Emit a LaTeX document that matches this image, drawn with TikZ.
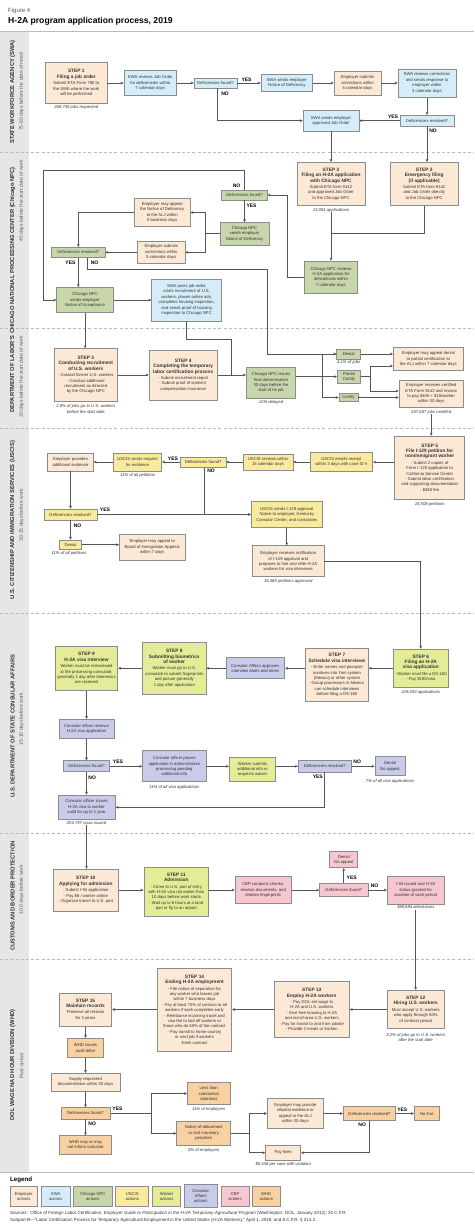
\documentclass[tikz,border=0pt]{standalone}
\usepackage{fontspec}
\setmainfont{Liberation Sans}
\usepackage{tikz}
\usetikzlibrary{arrows.meta,calc}

\definecolor{empfill}{HTML}{FBE8D5}
\definecolor{swafill}{HTML}{D5EDF8}
\definecolor{npcfill}{HTML}{C8D6AC}
\definecolor{uscfill}{HTML}{F9EA9E}
\definecolor{wrkfill}{HTML}{E4EC98}
\definecolor{consfill}{HTML}{C9CBEA}
\definecolor{cbpfill}{HTML}{F6C7CF}
\definecolor{whdfill}{HTML}{F8D0A2}
\definecolor{boxline}{HTML}{8C8C8C}
\definecolor{flow}{HTML}{555555}
\definecolor{txt}{HTML}{333333}
\definecolor{laneband}{HTML}{E6E6E6}
\definecolor{sepline}{HTML}{BBBBBB}

\newcommand{\fsz}[2]{\fontsize{#1}{#2}\selectfont}
\newcommand{\hd}[1]{{\fsz{4.8}{5.7}\bfseries #1}}

\begin{document}
\begin{tikzpicture}[x=1pt, y=-1pt,
  >={Stealth[length=3pt,width=2.8pt]},
  box/.style={draw=boxline, line width=0.7pt, align=center, inner sep=0.8pt,
    text=txt, font=\fsz{4.2}{5.4}},
  wh/.style 2 args={minimum width=#1pt, minimum height=#2pt},
  emp/.style={box, fill=empfill},
  swa/.style={box, fill=swafill},
  npc/.style={box, fill=npcfill},
  usc/.style={box, fill=uscfill},
  wrk/.style={box, fill=wrkfill},
  cons/.style={box, fill=consfill},
  cbp/.style={box, fill=cbpfill},
  whd/.style={box, fill=whdfill},
  note/.style={font=\fsz{4.2}{5.4}\itshape, text=txt, inner sep=0pt, align=center},
  yn/.style={font=\fsz{5}{6}\bfseries, inner sep=0pt},
  ln/.style={draw=flow, line width=0.75pt},
  lane/.style={rotate=90, font=\fsz{5.8}{7}\bfseries, text=txt, inner sep=0pt},
  lanesub/.style={rotate=90, font=\fsz{5}{6}, text=txt!80, inner sep=0pt},
  sep/.style={draw=sepline, line width=0.6pt, dash pattern=on 3pt off 2.2pt}]

  \useasboundingbox (0,0) rectangle (474,1226);
  \fill[white] (0,0) rectangle (474,1226);

  % heading
  \node[anchor=west, font=\fsz{6}{7}, text=black!65, inner sep=0pt] (fig) at (8,11) {Figure 4};
  \node[anchor=west, font=\fsz{8.6}{10}\bfseries, inner sep=0pt] (ttl) at (8,21.5)
    {H-2A program application process, 2019};
  \draw[draw=sepline, line width=0.7pt] (0,31.7) -- (474,31.7);

  % lanes
  \fill[laneband] (0,32.3) rectangle (29,1172);
  \draw[sep] (0,152) -- (474,152);
  \draw[sep] (0,328) -- (474,328);
  \draw[sep] (0,428) -- (474,428);
  \draw[sep] (0,613) -- (474,613);
  \draw[sep] (0,833) -- (474,833);
  \draw[sep] (0,959) -- (474,959);
  \draw[draw=sepline, line width=0.7pt] (0,1172) -- (474,1172);

  \node[lane] (lswa) at (12.7,92) {STATE WORKFORCE AGENCY (SWA)};
  \node[lanesub] (lswas) at (21.7,92) {75-60 days before the date of need};
  \node[lane] (lnpc) at (12.7,290) {DEPARTMENT OF LABOR'S CHICAGO NATIONAL PROCESSING CENTER (Chicago NPC)};
  \node[lanesub] (lnpcs) at (21.7,201) {45 days before the start date of work};
  \node[lanesub] (lnpct) at (21.7,377) {30 days before the start date of work};
  \node[lane] (lusc) at (12.7,520) {U.S. CITIZENSHIP AND IMMIGRATION SERVICES (USCIS)};
  \node[lanesub] (luscs) at (21.7,515) {30-15 days before work};
  \node[lane] (lcons) at (12.7,726) {U.S. DEPARTMENT OF STATE CONSULAR AFFAIRS};
  \node[lanesub] (lconss) at (21.7,719) {15-10 days before work};
  \node[lane] (lcbp) at (12.7,896) {CUSTOMS AND BORDER PROTECTION};
  \node[lanesub] (lcbps) at (21.7,890) {10-0 days before work};
  \node[lane] (lwhd) at (12.7,1065) {DOL WAGE NAD HOUR DIVISION (WHD)};
  \node[lanesub] (lwhds) at (21.7,1066) {Post-arrival};

  % swa
  \node[emp, wh={61.3}{41}] (s1) at (76.3,83)
    {\hd{STEP 1}\\\hd{Filing a job order}\\[1pt]Submit ETA Form 790 to\\the SWA where the work\\will be performed};
  \node[note] (n1) at (76.3,107.7) {268,739 jobs requested};
  \node[swa, wh={52.7}{24.6}] (swarev) at (150.3,83) {SWA reviews Job Order\\for deficiencies within\\7 calendar days};
  \node[swa, wh={43}{10}] (swadef) at (215.5,83) {Deficiencies found?};
  \node[swa, wh={51.7}{17.3}] (swanod) at (286.8,83) {SWA sends employer\\Notice of Deficiency};
  \node[emp, wh={47}{24}] (empcor1) at (357.5,83) {Employer submits\\corrections within\\5 calendar days};
  \node[swa, wh={58}{28.3}] (swarevcor) at (427,83) {SWA reviews corrections\\and sends response to\\employer within\\3 calendar days};
  \node[swa, wh={53.7}{10.7}] (swares) at (427,120.7) {Deficiencies resolved?};
  \node[swa, wh={55.7}{20.4}] (swaapp) at (331,120.7) {SWA sends employer\\approved Job Order};

  \draw[ln,->] (s1) -- (swarev);
  \draw[ln,->] (swarev) -- (swadef);
  \draw[ln,->] (swadef) -- (swanod);
  \draw[ln,->] (swanod) -- (empcor1);
  \draw[ln,->] (empcor1) -- (swarevcor);
  \draw[ln,->] (swarevcor) -- (swares);
  \draw[ln,->] (swares) -- (swaapp);
  \draw[ln,->] ([xshift=1.5pt]swadef.south) |- (swaapp.west);
  \node[yn] (y1) at (246.5,79.5) {YES};
  \node[yn] (no1) at (225,93.3) {NO};
  \node[yn] (y2) at (393,116.5) {YES};
  \node[yn] (no2) at (433,131) {NO};

  % chicago npc
  \node[emp, wh={68}{43.4}] (st2a) at (331,184)
    {\hd{STEP 2}\\\hd{Filing an H-2A application}\\\hd{with Chicago NPC}\\[1pt]Submit ETA form 9142\\and approved Job Order\\to the Chicago NPC};
  \node[note] (n2a) at (331,210) {13,081 applications};
  \node[emp, wh={67.7}{43.4}] (st2e) at (424.2,184)
    {\hd{STEP 2}\\\hd{Emergency filing}\\\hd{(if applicable)}\\[1pt]Submit ETA form 9142\\and Job Order directly\\to the Chicago NPC};
  \node[npc, wh={53.3}{32.3}] (npcrev) at (331,277.2) {Chicago NPC reviews\\H-2A application for\\deficiencies within\\7 calendar days};
  \node[npc, wh={45.6}{10}] (npcdef) at (244.5,195) {Deficiencies found?};
  \node[npc, wh={49}{22.5}] (npcnod) at (244.5,233.75) {Chicago NPC\\sends employer\\Notice of Deficiency};
  \node[emp, wh={55.7}{28.3}] (empapp1) at (162.2,212.5) {Employer may appeal\\the Notice of Deficiency\\to the ALJ within\\5 business days};
  \node[emp, wh={47.3}{22.6}] (empcor2) at (161.3,252.3) {Employer submits\\corrections within\\5 calendar days};
  \node[npc, wh={53.3}{10}] (npcres) at (78.3,252.3) {Deficiencies resolved?};
  \node[npc, wh={56.6}{25}] (npcacc) at (85,300) {Chicago NPC\\sends employer\\Notice of Acceptance};
  \node[swa, wh={70}{41.7}] (swapost) at (186.7,300) {SWA posts job order,\\starts recruitment of U.S.\\workers, places online ads,\\completes housing inspection,\\and sends proof of housing\\inspection to Chicago NPC};

  \draw[ln,->] (swares.south) -- (swares.south |- st2e.north);
  \draw[ln,->] (swaapp) -- (st2a);
  \coordinate (j2) at (331,233.3);
  \draw[ln,->] (n2a.south) -- (npcrev.north);
  \draw[ln] (st2e.south) |- (j2);
  \draw[ln,->] (npcrev.west) -- ++(-17,0) |- (npcdef.east);
  \draw[ln,->] (npcdef) -- (npcnod);
  \coordinate (nobend) at (43.3,170.7);
  \draw[ln,->] (npcdef.north) |- (nobend) |- (npcacc.west);
  \coordinate (b1) at (205,233.75);
  \draw[ln] (npcnod.west) -- (b1);
  \draw[ln,->] (b1) |- (empapp1.east);
  \draw[ln,->] (b1) |- (empcor2.east);
  \draw[ln,->] (empcor2) -- (npcres);
  \draw[ln,->] (empapp1.west) -| (npcres.north);
  \draw[ln,->] (npcres.south) -- (npcres.south |- npcacc.north);
  \draw[ln,->] (npcacc) -- (swapost);
  \node[yn] (no3) at (236.5,185.5) {NO};
  \node[yn] (y3) at (251.5,206) {YES};
  \node[yn] (y4) at (70.5,262.7) {YES};
  \node[yn] (no4) at (94.5,262.7) {NO};

  % chicago npc, 30 days
  \node[emp, wh={63}{52.7}] (st3) at (85.8,375)
    {\hd{STEP 3}\\\hd{Conducting recruitment}\\\hd{of U.S. workers}\\[1pt]- Contact former U.S. workers\\- Conduct additional\\recruitment as directed\\by the Chicago NPC};
  \node[note] (n3) at (85.8,409) {2.9\% of jobs go to U.S. workers\\before the start date};
  \node[emp, wh={68.3}{50}] (st4) at (183.2,375)
    {\hd{STEP 4}\\\hd{Completing the temporary}\\\hd{labor certification process}\\[1pt]- Submit recruitment report\\- Submit proof of workers'\\compensation insurance};
  \node[npc, wh={49.4}{31}] (fin) at (271,382.8) {Chicago NPC issues\\final determination\\30 days before the\\start of he job};
  \node[note] (nfin) at (271,402.7) {12\% delayed};
  \node[npc, wh={24}{10}] (den1) at (348.7,354) {Denial};
  \node[note] (nden) at (348.7,362.5) {4.1\% of jobs};
  \node[npc, wh={23.4}{13.3}] (pc) at (349,376.7) {Partial\\Certify};
  \node[npc, wh={19}{8.4}] (cert) at (348.5,397.5) {Certify};
  \node[emp, wh={70}{23.4}] (empapp2) at (428.3,359) {Employer may appeal denial\\or partial certification to\\the ALJ within 7 calendar days};
  \node[emp, wh={64.3}{27.3}] (emprec) at (431.2,393.7) {Employer receives certified\\ETA Form 9142 and invoice\\to pay \$100 + \$10/worker\\within 30 days};
  \node[note] (nrec) at (431.2,412) {257,667 jobs certified};

  \coordinate (nob) at (267.3,269);
  \draw[ln,->] ([xshift=9.4pt]npcres.south) |- (nob) |- (den1.west);
  \draw[ln,->] (npcacc.south) -- (npcacc.south |- st3.north);
  \draw[ln,->] (st3) -- (st4);
  \coordinate (j4) at (231.7,339.3);
  \draw[ln] (swapost.south) |- (j4) -- (j4 |- st4.east);
  \draw[ln,->] (st4.east) -- (fin.west |- st4.east);
  \coordinate (j5) at (322.3,376.7);
  \draw[ln,->] (fin.east |- pc.west) -- (pc.west);
  \draw[ln,->] (j5) |- (den1.west);
  \draw[ln,->] (j5) |- (cert.west);
  \draw[ln,->] (den1) -- (den1 -| empapp2.west);
  \coordinate (j6) at (370,376.7);
  \draw[ln] (pc.east) -- (j6);
  \draw[ln,->] (j6) |- ([yshift=-7pt]empapp2.west);
  \draw[ln,->] (j6) |- ([yshift=2.7pt]emprec.west);
  \draw[ln,->] (cert) -- (cert -| emprec.west);

  % uscis
  \node[emp, wh={70}{63.3}] (st5) at (429.7,467.7)
    {\hd{STEP 5}\\\hd{File I-129 petition for}\\\hd{nonimmigrant worker}\\[1pt]- Submit 2 copies of\\Form I-129 application to\\California Service Center\\- Submit labor certification\\and supporting documentation\\- \$460 fee};
  \node[note] (n5) at (429.7,504.3) {15,508 petitions};
  \node[usc, wh={62.7}{18.7}] (usemail) at (341.3,462) {USCIS emails receipt\\within 3 days with case ID \#};
  \node[usc, wh={50}{15.7}] (usrev) at (268,462) {USCIS reviews within\\15 calendar days};
  \node[usc, wh={45.7}{10.3}] (usdef) at (203.2,462) {Deficiencies found?};
  \node[usc, wh={48.4}{18}] (usreq) at (137.5,462) {USCIS sends request\\for evidence};
  \node[note] (nreq) at (137.5,475.2) {11\% of all petitions};
  \node[emp, wh={45.6}{18}] (empev) at (70.5,462) {Employer provides\\additional evidence};
  \node[usc, wh={53}{11}] (usres) at (70.5,514.5) {Deficiencies resolved?};
  \node[usc, wh={22.3}{9.3}] (usden) at (70.5,544.7) {Denial};
  \node[note] (nuden) at (69,553.7) {11\% of all petitions};
  \node[emp, wh={65.7}{25.7}] (empbia) at (152.2,547.2) {Employer may appeal to\\Board of Immigration Appeals\\within 7 days};
  \node[usc, wh={71}{25.6}] (usapp) at (286.8,514.5) {USCIS sends I-129 approval\\Notice to employer, Kentucky\\Consular Center, and consulates};
  \node[emp, wh={71.7}{31}] (emprcv) at (288.2,561.2) {Employer receives notification\\of I-129 approval and\\prepares to hire and refer H-2A\\workers for visa interviews};
  \node[note] (nrcv) at (288.2,581.7) {15,380 petitions approved};

  \draw[ln,->] (nrec.south) -- (nrec.south |- st5.north);
  \draw[ln,->] (st5.west |- usemail) -- (usemail);
  \draw[ln,->] (usemail) -- (usrev);
  \draw[ln,->] (usrev) -- (usdef);
  \draw[ln,->] (usdef) -- (usreq);
  \draw[ln,->] (usreq) -- (empev);
  \draw[ln,->] (empev) -- (usres);
  \draw[ln,->] (usres) -- (usapp);
  \draw[ln] ([xshift=1.5pt]usdef.south) |- (usapp.west);
  \draw[ln,->] (usres) -- (usden);
  \draw[ln,->] (usden) -- (usden -| empbia.west);
  \draw[ln,->] (usapp.south) -- (usapp.south |- emprcv.north);
  \node[yn] (y5) at (173,458.3) {YES};
  \node[yn] (no5) at (211,471) {NO};
  \node[yn] (y6) at (105,510) {YES};
  \node[yn] (no6) at (77.5,526) {NO};

  % consular affairs
  \node[wrk, wh={55}{38.3}] (st6) at (420.8,668.2)
    {\hd{STEP 6}\\\hd{Filing an H-2A}\\\hd{visa application}\\[1pt]- Worker must file a DS-160\\- Pay \$190/visa};
  \node[note] (n6) at (420.8,692.3) {219,053 applications};
  \node[emp, wh={62.6}{53.4}] (st7) at (337,675)
    {\hd{STEP 7}\\\hd{Schedule visa interviews}\\[1pt]- Enter names and passport\\numbers into Yoni system\\(Mexico) or other system\\-Group processors in Mexico\\can schedule interviews\\before filing a DS-160};
  \node[cons, wh={58.7}{21}] (conapp) at (255.3,668.2) {Consular Affairs approves\\interview dates and times};
  \node[wrk, wh={63.3}{51.3}] (st8) at (174.3,668.2)
    {\hd{STEP 8}\\\hd{Submitting biometrics}\\\hd{of worker}\\[1pt]Worker must go to U.S.\\consulate to submit fingerprints\\and picture generally\\1 day after application};
  \node[wrk, wh={62.6}{44}] (st9) at (86.5,668.2)
    {\hd{STEP 9}\\\hd{H-2A visa interview}\\[1pt]Worker must be interviewed\\at the processing consulate,\\generally 1 day after biometrics\\are received};
  \node[cons, wh={55.3}{19}] (conrev) at (86.5,728.8) {Consular officer reviews\\H-2A visa application};
  \node[cons, wh={46}{11}] (condef) at (86.5,766.3) {Deficiencies found?};
  \node[cons, wh={63.3}{31}] (conadm) at (174.3,766.3) {Consular officer places\\application in administrative\\processing pending\\additional info};
  \node[note] (nadm) at (174.3,787.3) {11\% of all visa applications};
  \node[wrk, wh={46.4}{24.4}] (wrksub) at (252.5,769.5) {Worker submits\\additional info or\\requests waiver};
  \node[cons, wh={53}{11.3}] (conres) at (324.8,766.3) {Deficiencies resolved?};
  \node[cons, wh={30}{19}] (conden) at (390,766.3) {Denial\\No appeal};
  \node[note] (ncden) at (390,781.7) {7\% of all visa applications};
  \node[cons, wh={57.3}{24.3}] (conissue) at (86.5,807.2) {Consular officer issues\\H-2A visa to worker\\valid for up to 1 year};
  \node[note] (nconi) at (86.5,823.3) {204,797 visas issued};

  \draw[ln,->] (emprcv.east) -| (st6.north);
  \draw[ln,->] (st6) -- (st6 -| st7.east);
  \draw[ln,->] (st7.west |- conapp) -- (conapp);
  \draw[ln,->] (conapp) -- (st8);
  \draw[ln,->] (st8) -- (st9);
  \draw[ln,->] (st9) -- (conrev);
  \draw[ln,->] (conrev) -- (condef);
  \draw[ln,->] (condef) -- (conadm);
  \draw[ln,->] (conadm.east) -- (conadm.east -| wrksub.west);
  \draw[ln,->] (wrksub.east |- conres) -- (conres);
  \draw[ln,->] (conres) -- (conden);
  \draw[ln,->] (conres.south) |- (conissue.east);
  \draw[ln,->] (condef) -- (conissue);
  \node[yn] (y7) at (118,761.7) {YES};
  \node[yn] (no7) at (92.2,777.7) {NO};
  \node[yn] (no8) at (357.2,761.7) {NO};
  \node[yn] (y8) at (317.8,776.7) {YES};

  % customs and border protection
  \node[emp, wh={65}{41.7}] (st10) at (85.8,890)
    {\hd{STEP 10}\\\hd{Applying for admission}\\[1pt]- Submit I-94 application\\- Pay \$6 / worker online\\- Organize transit to U.S. port};
  \node[wrk, wh={64.7}{48.3}] (st11) at (176.3,891.8)
    {\hd{STEP 11}\\\hd{Admission}\\[1pt]- Come to U.S. port of entry\\with H-2A visa not earlier than\\10 days before work starts\\- Wait up to 6 hours at a land\\port or fly to an airport};
  \node[cbp, wh={56.3}{26.6}] (cbpchk) at (263.2,890) {CBP conducts checks,\\reviews documents, and\\retakes fingerprints};
  \node[cbp, wh={48.3}{12.4}] (cbpdef) at (343.8,890) {Deficiencies found?};
  \node[cbp, wh={28}{16}] (cbpden) at (343.8,859.7) {Denial\\No appeal};
  \node[cbp, wh={56.7}{28.3}] (cbpi94) at (415.7,890) {I-94 issued and H-2A\\status granted for\\duration of work period};
  \node[note] (ni94) at (415.7,907.7) {398,584 admissions};

  \draw[ln,->] (nconi.south) -- (nconi.south |- st10.north);
  \draw[ln,->] (st10) -- (st10 -| st11.west);
  \draw[ln,->] (st11.east |- cbpchk) -- (cbpchk);
  \draw[ln,->] (cbpchk) -- (cbpdef);
  \draw[ln,->] (cbpdef) -- (cbpi94);
  \draw[ln,->] (cbpdef) -- (cbpden);
  \node[yn] (y9) at (351.7,878) {YES};
  \node[yn] (no9) at (374.5,885.3) {NO};

  % wage and hour division
  \node[emp, wh={56.7}{38.6}] (st12) at (415.7,1009.5)
    {\hd{STEP 12}\\\hd{Hiring U.S. workers}\\[1pt]Must accept U.S. workers\\who apply through 50\%\\of contract period};
  \node[note] (n12) at (415.7,1037.5) {3.2\% of jobs go to U.S. workers\\after the start date};
  \node[emp, wh={75}{56}] (st13) at (311.8,1009.5)
    {\hd{STEP 13}\\\hd{Employ H-2A workers}\\[1pt]- Pay DOL-set wage to\\H-2A and U.S. workers\\- Give free housing to H-2A\\and out-of-area U.S. workers\\- Pay for transit to and from jobsite\\- Provide 3 meals or kitchen};
  \node[emp, wh={74.4}{82.7}] (st14) at (194.5,1009.5)
    {\hd{STEP 14}\\\hd{Ending H-2A employment}\\[1pt]- File notice of separation for\\any worker who leaves job\\within 7 business days\\- Pay at least 75\% of contract to all\\workers if work completes early\\- Reimburse incoming travel and\\visa fee to laid off workers or\\those who do 50\% of the contract\\- Pay transit to home country\\or next job if workers\\finish contract};
  \node[emp, wh={52.4}{33.3}] (st15) at (85.5,1009.5)
    {\hd{STEP 15}\\\hd{Maintain records}\\[1pt]Preserve all records\\for 3 years};
  \node[whd, wh={36.3}{19}] (whdaud) at (85.5,1047.8) {WHD issues\\audit letter};
  \node[emp, wh={69.3}{17.7}] (empsup) at (85.5,1082.2) {Supply requested\\documentation within 30 days};
  \node[whd, wh={49.3}{11.3}] (whddef) at (85.5,1113.3) {Deficiencies found?};
  \node[whd, wh={52}{18.3}] (whdinf) at (85.5,1144.8) {WHD may or may\\not inform outcome};
  \node[whd, wh={42.7}{21.6}] (whdless) at (208.7,1093.5) {Less than\\substantial\\violations};
  \node[note] (nless) at (208.7,1109) {11\% of employers};
  \node[whd, wh={54}{23.3}] (whddeb) at (203.7,1133.3) {Notice of debarment\\or civil monetary\\penalties};
  \node[note] (ndeb) at (203.7,1150) {2\% of employers};
  \node[emp, wh={56}{30}] (empreb) at (295.3,1113.5) {Employer may provide\\rebuttal evidence or\\appeal to the ALJ\\within 30 days};
  \node[whd, wh={52.4}{13.4}] (whdres) at (369.5,1113.5) {Deficiencies resolved?};
  \node[whd, wh={24.7}{14}] (nofine) at (426.7,1113.5) {No fine};
  \node[emp, wh={35}{14.3}] (payf) at (283.2,1152.8) {Pay fines};
  \node[note] (npay) at (283.2,1164.3) {\$6,538 per case with violation};

  \draw[ln,->] (ni94.south) -- (ni94.south |- st12.north);
  \draw[ln,->] (st12) -- (st13);
  \draw[ln,->] (st13) -- (st14);
  \draw[ln,->] (st14) -- (st15);
  \draw[ln,->] (st15) -- (whdaud);
  \draw[ln,->] (whdaud) -- (empsup);
  \draw[ln,->] (empsup) -- (whddef);
  \draw[ln,->] (whddef) -- (whdinf);
  \coordinate (j7) at (151.7,1113.3);
  \draw[ln] (whddef) -- (j7);
  \draw[ln,->] (j7) |- (whdless.west);
  \draw[ln,->] (j7) |- (whddeb.west);
  \coordinate (j8) at (249.7,1133.3);
  \draw[ln] (whddeb) -- (j8);
  \draw[ln,->] (j8) |- (empreb.west);
  \draw[ln,->] (j8) |- (payf.west);
  \draw[ln,->] (empreb) -- (whdres);
  \draw[ln,->] (whdres) -- (nofine);
  \draw[ln,->] (whdres.south) |- (payf.east);
  \node[yn] (y10) at (117.5,1108.3) {YES};
  \node[yn] (no10) at (92.2,1124) {NO};
  \node[yn] (y11) at (402.3,1110) {YES};
  \node[yn] (no11) at (362.2,1125) {NO};

  % legend
  \node[anchor=west, font=\fsz{6.2}{7}\bfseries, inner sep=0pt] (legt) at (10,1180) {Legend};
  \node[emp, wh={27.7}{20}] (lg1) at (23.8,1196.7) {Employer\\actions};
  \node[swa, wh={28.7}{20}] (lg2) at (55.7,1196.7) {SWA\\actions};
  \node[npc, wh={39}{20}] (lg3) at (92.8,1196.7) {Chicago NPC\\actions};
  \node[usc, wh={33}{20}] (lg4) at (132.2,1196.7) {USCIS\\actions};
  \node[wrk, wh={28}{20}] (lg5) at (166.7,1196.7) {Worker\\actions};
  \node[cons, wh={33.3}{23.4}] (lg6) at (200.7,1196) {Consular\\Affairs\\actions};
  \node[cbp, wh={28}{20}] (lg7) at (235,1196.7) {CBP\\actions};
  \node[whd, wh={27.7}{20}] (lg8) at (266.2,1196.7) {WHD\\actions};

  % sources
  \node[anchor=west, font=\fsz{4.5}{5.4}, text=txt, inner sep=0pt] (src1) at (10,1213.5)
    {Sources:\ \ Office of Foreign Labor Certification, \textit{Employer Guide to Participation in the H-2A Temporary Agricultural Program} (Washington: DOL, January 2012); 20 C.F.R.};
  \node[anchor=west, font=\fsz{4.5}{5.4}, text=txt, inner sep=0pt] (src2) at (10,1220.5)
    {Subpart B---``Labor Certification Process for Temporary Agricultural Employment in the United States (H-2A Workers),'' April 1, 2018; and 8 C.F.R. \S~214.2.};
\end{tikzpicture}
\end{document}
